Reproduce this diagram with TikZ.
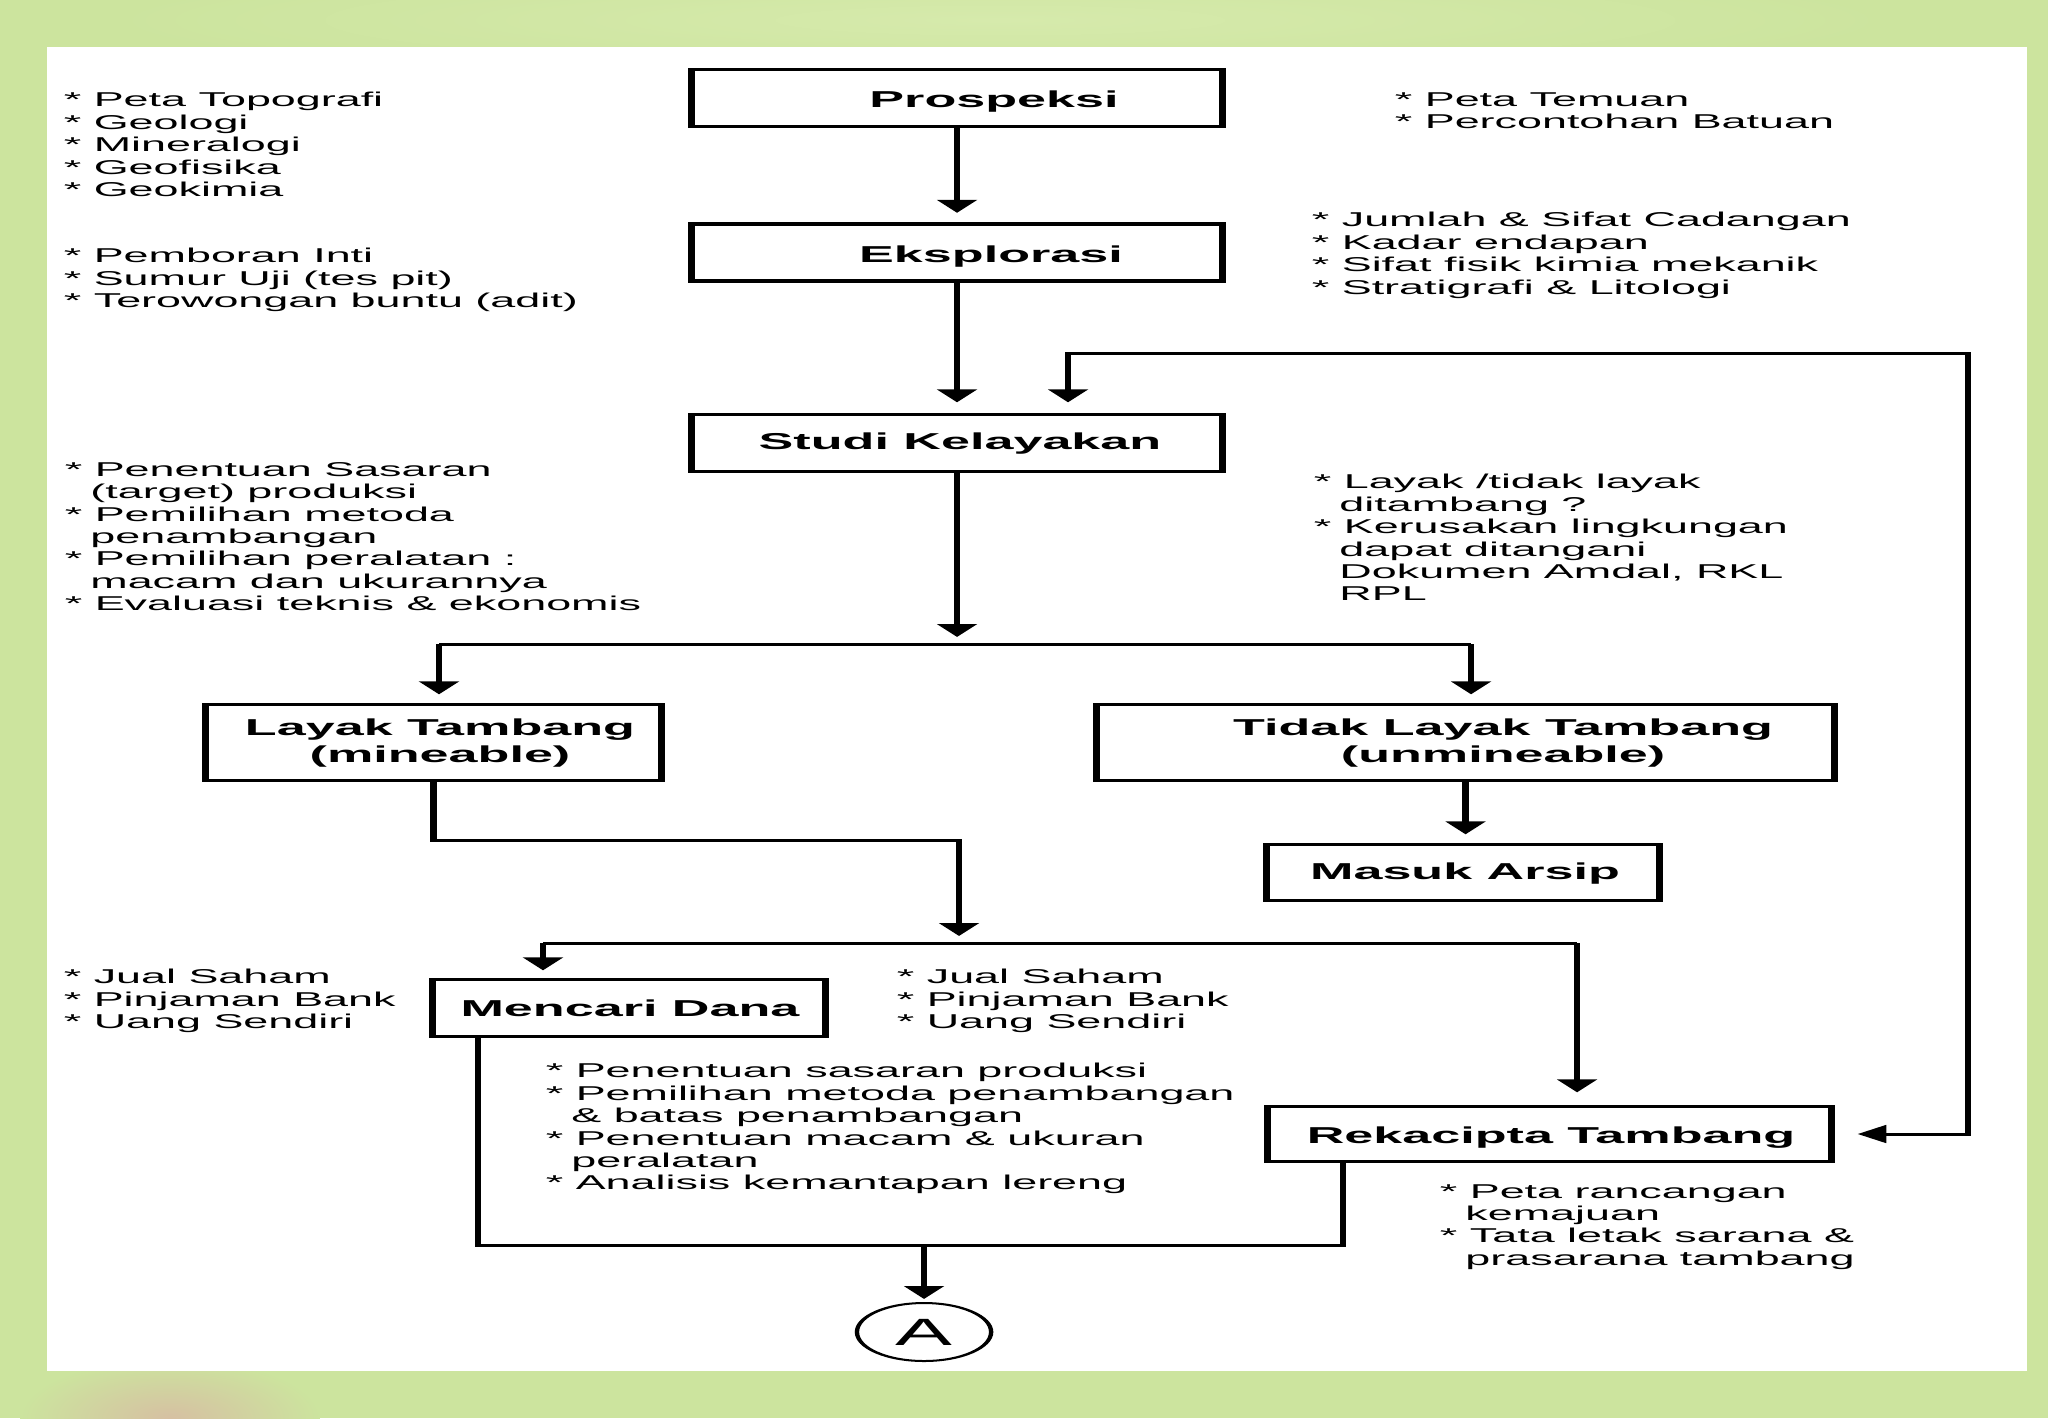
\documentclass[tikz,border=0pt]{standalone}
\usepackage{fontspec}
\setmainfont{Liberation Sans}[FakeStretch=1.02,BoldFeatures={FakeStretch=1.03}]
\usetikzlibrary{arrows.meta,shapes.geometric,calc}
\definecolor{bgG}{RGB}{204,228,158}
\definecolor{bgL}{RGB}{214,234,172}
\definecolor{bgT}{RGB}{214,192,162}
\newcommand\lxt{\fontsize{10pt}{11.2pt}\selectfont}
\newcommand\bxt{\fontsize{11.5pt}{13.5pt}\selectfont\bfseries}
\newcommand\ci{\hspace*{5.8pt}}
\tikzset{
  conn/.style={line width=1.5pt, line join=miter},
  arr/.style={conn, -{Triangle[width=8.8pt,length=6.5pt]}},
  box/.style={draw, line width=1.65pt, inner sep=0pt},
  btxt/.style={font=\bxt, inner sep=0pt, align=center},
  lst/.style={font=\lxt, inner sep=0pt, anchor=north west, align=left},
}
\begin{document}
\begin{tikzpicture}[x=0.5pt,y=-0.5pt]
\useasboundingbox (0,0) rectangle (2048,1418);
\fill[bgG] (0,0) rectangle (2048,1418);
\shade[inner color=bgL, outer color=bgG] (1000,20) ellipse (900 and 60);
\shade[inner color=bgT, outer color=bgG] (170,1418) ellipse (150 and 60);
\fill[white] (47,47) rectangle (2027,1371);
\begin{scope}[x=0.227273pt, transform canvas={xscale=2.2}]
% boxes
\node[box, minimum width=120.7pt, minimum height=28.5pt] (pros) at (957,98) {};
\node[btxt] (prost) at (994,102) {Prospeksi};
\node[box, minimum width=120.7pt, minimum height=28.5pt] (eks) at (957,252.5) {};
\node[btxt] (ekst) at (991,257) {Eksplorasi};
\node[box, minimum width=120.7pt, minimum height=28.5pt] (stud) at (957,443) {};
\node[btxt] (studt) at (960,444) {Studi Kelayakan};
\node[box, minimum width=103.6pt, minimum height=38pt] (lay) at (433.5,742.5) {};
\node[btxt] (layt) at (440,743) {Layak Tambang\\(mineable)};
\node[box, minimum width=167.7pt, minimum height=38pt] (tid) at (1465.5,742.5) {};
\node[btxt] (tidt) at (1503,743) {Tidak Layak Tambang\\(unmineable)};
\node[box, minimum width=89.3pt, minimum height=28pt] (mas) at (1463,872.5) {};
\node[btxt] (mast) at (1465,874) {Masuk Arsip};
\node[box, minimum width=89.3pt, minimum height=28.5pt] (men) at (629,1008) {};
\node[btxt] (ment) at (630,1008) {Mencari Dana};
\node[box, minimum width=128.2pt, minimum height=27.5pt] (rek) at (1549.5,1134) {};
\node[btxt] (rekt) at (1551,1138) {Rekacipta Tambang};
\node[ellipse, draw, line width=1pt, minimum width=30.5pt, minimum height=29pt, inner sep=0pt,
      font=\fontsize{19pt}{19pt}\selectfont] (A) at (924,1332) {A};
% lists
\node[lst] (l1) at (63,92) {* Peta Topografi\\{*} Geologi\\{*} Mineralogi\\{*} Geofisika\\{*} Geokimia};
\node[lst] (l2) at (63,248) {* Pemboran Inti\\{*} Sumur Uji (tes pit)\\{*} Terowongan buntu (adit)};
\node[lst] (r1) at (1394,92) {* Peta Temuan\\{*} Percontohan Batuan};
\node[lst] (r2) at (1311,212) {* Jumlah \& Sifat Cadangan\\{*} Kadar endapan\\{*} Sifat fisik kimia mekanik\\{*} Stratigrafi \& Litologi};
\node[lst] (l3) at (64,462) {* Penentuan Sasaran\\\ci(target) produksi\\{*} Pemilihan metoda\\\ci penambangan\\{*} Pemilihan peralatan :\\\ci macam dan ukurannya\\{*} Evaluasi teknis \& ekonomis};
\node[lst] (r3) at (1313,474) {* Layak /tidak layak\\\ci ditambang ?\\{*} Kerusakan lingkungan\\\ci dapat ditangani\\\ci Dokumen Amdal, RKL\\\ci RPL};
\node[lst] (j1) at (63,969) {* Jual Saham\\{*} Pinjaman Bank\\{*} Uang Sendiri};
\node[lst] (j2) at (896,969) {* Jual Saham\\{*} Pinjaman Bank\\{*} Uang Sendiri};
\node[lst] (lm) at (545,1063) {* Penentuan sasaran produksi\\{*} Pemilihan metoda penambangan\\\ci\& batas penambangan\\{*} Penentuan macam \& ukuran\\\ci peralatan\\{*} Analisis kemantapan lereng};
\node[lst] (rk) at (1439,1184) {* Peta rancangan\\\ci kemajuan\\{*} Tata letak sarana \&\\\ci prasarana tambang};
% connectors
\coordinate (s1) at (439,644);
\coordinate (s2) at (1471,644);
\coordinate (c1) at (959,840);
\coordinate (s3) at (543,943);
\coordinate (s4) at (1577,943);
\coordinate (m1) at (478,1245);
\coordinate (m2) at (1343,1245);
\coordinate (m3) at (924,1245);
\coordinate (f1) at (1068,353);
\coordinate (f2) at (1968,353);
\draw[arr, shorten >=4.75pt] (pros.south) -- (eks.north);
\draw[arr, shorten >=5.25pt] (eks.south) -- (stud.north);
\draw[arr, shorten >=3.5pt] (stud.south) -- (stud.south |- s1);
\draw[conn] (s1) -- (s2);
\draw[arr, shorten >=4.25pt] (s1) -- (s1 |- lay.north);
\draw[arr, shorten >=4.25pt] (s2) -- (s2 |- tid.north);
\draw[arr, shorten >=4.25pt] (tid.south) -- (tid.south |- mas.north);
\draw[arr, shorten >=3.5pt] (lay.south) |- (c1) -- (c1 |- s3);
\draw[conn] (s3) -- (s4);
\draw[arr, shorten >=3.75pt] (s3) -- (s3 |- men.north);
\draw[arr, shorten >=6.25pt] (s4) -- (s4 |- rek.north);
\draw[conn] (men.south -| m1) -- (m1) -- (m2) -- (rek.south -| m2);
\draw[arr, shorten >=1.5pt] (m3) -- (A.north);
\draw[conn, {Triangle[width=8.8pt,length=6.5pt]}-{Triangle[width=8.8pt,length=6.5pt]}, shorten <=5.25pt, shorten >=5.1pt]
  (f1 |- stud.north) -- (f1) -- (f2) |- (rek.east);
\end{scope}
\end{tikzpicture}
\end{document}
